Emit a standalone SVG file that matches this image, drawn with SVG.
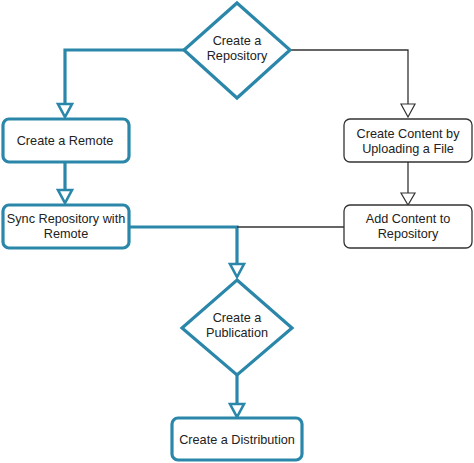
<svg xmlns="http://www.w3.org/2000/svg" width="474" height="463" viewBox="0 0 474 463">
<style>
.t{font-family:"Liberation Sans",Arial,sans-serif;font-size:12.7px;fill:#222;text-anchor:middle}
.tb{fill:#fff;stroke:#2b87aa;stroke-width:3.2}
.kb{fill:#fff;stroke:#333;stroke-width:1.3}
.tl{fill:none;stroke:#2b87aa;stroke-width:3.2}
.kl{fill:none;stroke:#333;stroke-width:1.3}
.ta{fill:#fff;stroke:#2b87aa;stroke-width:2.6;stroke-linejoin:miter}
.ka{fill:#fff;stroke:#333;stroke-width:1.2}
</style>
<rect width="474" height="463" fill="#fff"/>
<g id="connectors">
<polyline class="tl" points="184,50 65,50 65,104"/>
<polygon class="ta" points="58,104 72,104 65,117"/>
<polyline class="kl" points="290,50 408,50 408,104"/>
<polygon class="ka" points="401,104 415,104 408,117"/>
<line class="tl" x1="65" y1="162" x2="65" y2="190"/>
<polygon class="ta" points="58,190 72,190 65,203"/>
<line class="kl" x1="408" y1="162" x2="408" y2="193"/>
<polygon class="ka" points="401,193 415,193 408,205"/>
<polyline class="tl" points="129,227 237,227 237,264"/>
<line class="kl" x1="237" y1="227" x2="344" y2="227"/>
<polygon class="ta" points="230,264 244,264 237,277"/>
<line class="tl" x1="237" y1="375" x2="237" y2="404"/>
<polygon class="ta" points="230,404 244,404 237,417"/>
</g>
<g id="create-repository">
<polygon class="tb" points="237,3 290,50 237,98 184,50"/>
<text class="t" x="237" y="45">Create a</text>
<text class="t" x="237" y="60">Repository</text>
</g>
<g id="create-remote">
<rect class="tb" x="3" y="119" width="126" height="43" rx="6"/>
<text class="t" x="65" y="145">Create a Remote</text>
</g>
<g id="create-content">
<rect class="kb" x="344" y="119" width="128" height="43" rx="6"/>
<text class="t" x="408" y="138">Create Content by</text>
<text class="t" x="408" y="153">Uploading a File</text>
</g>
<g id="sync-repository">
<rect class="tb" x="3" y="205" width="126" height="43" rx="6"/>
<text class="t" x="66" y="223">Sync Repository with</text>
<text class="t" x="66" y="238">Remote</text>
</g>
<g id="add-content">
<rect class="kb" x="344" y="205" width="128" height="43" rx="6"/>
<text class="t" x="408" y="223">Add Content to</text>
<text class="t" x="408" y="238">Repository</text>
</g>
<g id="create-publication">
<polygon class="tb" points="237,280 292,328 237,375 182,328"/>
<text class="t" x="237" y="322">Create a</text>
<text class="t" x="237" y="337">Publication</text>
</g>
<g id="create-distribution">
<rect class="tb" x="172" y="418" width="130" height="42" rx="6"/>
<text class="t" x="237" y="444">Create a Distribution</text>
</g>
</svg>
